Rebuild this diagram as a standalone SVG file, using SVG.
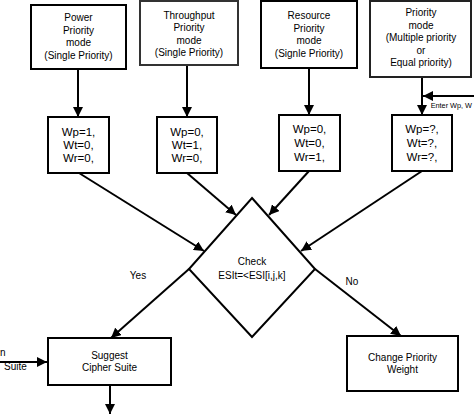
<svg xmlns="http://www.w3.org/2000/svg" width="474" height="414" viewBox="0 0 474 414">
<style>
.box{fill:#fff;stroke:#000;stroke-width:2}
.t{font-family:"Liberation Sans",Arial,sans-serif;font-size:10px;fill:#000;text-anchor:middle}
.w{font-size:11.5px}
.c{stroke:#000;stroke-width:2;fill:none;marker-end:url(#ah)}
</style>
<defs>
<marker id="ah" markerUnits="userSpaceOnUse" markerWidth="11" markerHeight="10" refX="10" refY="5" orient="auto">
<path d="M0,0 L10,5 L0,10 z" fill="#000"/>
</marker>
</defs>
<rect width="474" height="414" fill="#fff"/>
<g id="connectors">
<line class="c" x1="78" y1="69" x2="78" y2="117"/>
<line class="c" x1="187" y1="65" x2="187" y2="117"/>
<line class="c" x1="309" y1="68" x2="309" y2="115"/>
<line class="c" x1="422" y1="77" x2="422" y2="115"/>
<line class="c" x1="474" y1="96" x2="423" y2="96"/>
<line class="c" x1="79" y1="173" x2="204" y2="251"/>
<line class="c" x1="187" y1="173" x2="236" y2="215"/>
<line class="c" x1="309" y1="171" x2="269" y2="215"/>
<line class="c" x1="422" y1="171" x2="301" y2="251"/>
<line class="c" x1="189" y1="269" x2="111" y2="338"/>
<line class="c" x1="315" y1="269" x2="401" y2="336"/>
<line class="c" x1="110" y1="385" x2="110" y2="414"/>
<line class="c" x1="0" y1="362" x2="47" y2="362"/>
<text class="t" x="472" y="108" style="font-size:7.3px;text-anchor:end">Enter Wp, W</text>
<text class="t" x="138" y="279">Yes</text>
<text class="t" x="352" y="285">No</text>
<text class="t" x="0" y="356" style="text-anchor:start">n</text>
<text class="t" x="15.5" y="370">Suite</text>
</g>
<g id="power">
<rect class="box" x="31" y="5" width="95" height="64"/>
<text class="t" x="78.5" y="21">Power</text>
<text class="t" x="78.5" y="33.5">Priority</text>
<text class="t" x="78.5" y="46">mode</text>
<text class="t" x="78.5" y="58.5">(Single Priority)</text>
</g>
<g id="throughput">
<rect class="box" x="140" y="1" width="98" height="64" style="stroke:#333"/>
<text class="t" x="189" y="19">Throughput</text>
<text class="t" x="189" y="31">Priority</text>
<text class="t" x="189" y="43.5">mode</text>
<text class="t" x="189" y="56">(Single Priority)</text>
</g>
<g id="resource">
<rect class="box" x="261" y="1" width="96" height="67"/>
<text class="t" x="309" y="19">Resource</text>
<text class="t" x="309" y="31.5">Priority</text>
<text class="t" x="309" y="44">mode</text>
<text class="t" x="309" y="56.5">(Signle Priority)</text>
</g>
<g id="multi">
<rect class="box" x="370" y="1" width="101" height="76" style="stroke:#222"/>
<text class="t" x="421" y="16">Priority</text>
<text class="t" x="421" y="28.5">mode</text>
<text class="t" x="421" y="41">(Multiple priority</text>
<text class="t" x="421" y="53.5">or</text>
<text class="t" x="421" y="66">Equal priority)</text>
</g>
<g id="wpower">
<rect class="box" x="48" y="117" width="61" height="56"/>
<text class="t w" x="78.5" y="136">Wp=1,</text>
<text class="t w" x="78.5" y="149">Wt=0,</text>
<text class="t w" x="78.5" y="162">Wr=0,</text>
</g>
<g id="wthroughput">
<rect class="box" x="157" y="117" width="60" height="56"/>
<text class="t w" x="187" y="136">Wp=0,</text>
<text class="t w" x="187" y="149">Wt=1,</text>
<text class="t w" x="187" y="162">Wr=0,</text>
</g>
<g id="wresource">
<rect class="box" x="279" y="115" width="61" height="56"/>
<text class="t w" x="309.5" y="133">Wp=0,</text>
<text class="t w" x="309.5" y="147">Wt=0,</text>
<text class="t w" x="309.5" y="161">Wr=1,</text>
</g>
<g id="wmulti">
<rect class="box" x="392" y="115" width="60" height="56"/>
<text class="t w" x="422" y="133">Wp=?,</text>
<text class="t w" x="422" y="147">Wt=?,</text>
<text class="t w" x="422" y="161">Wr=?,</text>
</g>
<g id="check">
<polygon class="box" points="252,198 315,269 252,337 189,269"/>
<text class="t" x="252" y="264.5">Check</text>
<text class="t" x="252" y="278.5">ESIt=&lt;ESI[i,j,k]</text>
</g>
<g id="suggest">
<rect class="box" x="48" y="338" width="123" height="47"/>
<text class="t" x="109.5" y="358.5">Suggest</text>
<text class="t" x="109.5" y="370.5">Cipher Suite</text>
</g>
<g id="change">
<rect class="box" x="347" y="336" width="111" height="55"/>
<text class="t" x="402.5" y="360.5">Change Priority</text>
<text class="t" x="402.5" y="372.5">Weight</text>
</g>
</svg>
